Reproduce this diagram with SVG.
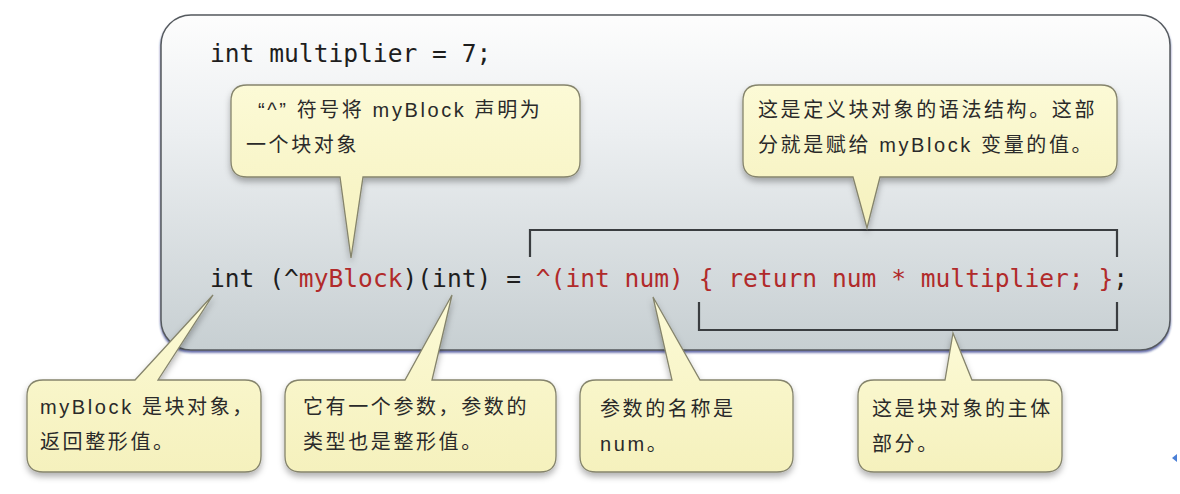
<svg xmlns="http://www.w3.org/2000/svg" width="1180" height="494" viewBox="0 0 1180 494">
  <defs>
    <linearGradient id="boxGrad" x1="0" y1="0" x2="0" y2="1">
      <stop offset="0" stop-color="#fdfdfd"/>
      <stop offset="0.35" stop-color="#eceff1"/>
      <stop offset="1" stop-color="#c7cfd2"/>
    </linearGradient>
    <linearGradient id="calloutGrad" x1="0" y1="0" x2="0" y2="1">
      <stop offset="0" stop-color="#fcfad6"/>
      <stop offset="1" stop-color="#f5f1bd"/>
    </linearGradient>
    <filter id="boxShadow" x="-5%" y="-5%" width="110%" height="115%">
      <feDropShadow dx="0" dy="2" stdDeviation="1.2" flood-color="#1c2c80" flood-opacity="0.7"/>
    </filter>
    <filter id="calloutShadow" x="-10%" y="-10%" width="120%" height="130%">
      <feDropShadow dx="0" dy="4" stdDeviation="3" flood-color="#000" flood-opacity="0.3"/>
    </filter>
    <style>
      .box { fill: url(#boxGrad); stroke: #555a5e; stroke-width: 1.5; filter: url(#boxShadow); }
      .callout { fill: url(#calloutGrad); stroke: #85846c; stroke-width: 1.3; filter: url(#calloutShadow); }
      .code { font-family: "DejaVu Sans Mono", "Liberation Mono", monospace; font-size: 24.6px; fill: #1e1e1e; }
      .red { fill: #b12a2a; }
      .note { font-family: "Liberation Sans", "Noto Sans CJK SC", sans-serif; font-size: 20px; letter-spacing: 2.6px; fill: #2a2a2a; }
      .bracket { fill: none; stroke: #3a3d40; stroke-width: 2.2; }
    </style>
  </defs>

  <rect width="1180" height="494" fill="#ffffff"/>

  <g id="main-box">
    <rect class="box" x="161" y="15" width="1009" height="335" rx="30" ry="30"/>
    <text class="code" x="210" y="62">int multiplier = 7;</text>
    <text class="code" x="210" y="287">int (^<tspan class="red">myBlock</tspan>)(int) = <tspan class="red">^(int num) { return num * multiplier; }</tspan>;</text>
  </g>

  <g id="connectors">
    <path class="bracket" d="M 530,257 V 230 H 1117 V 257"/>
    <path class="bracket" d="M 699,302 V 330 H 1117 V 302"/>
  </g>

  <g id="callout-caret">
    <path class="callout" d="M 247,85 H 564 Q 580,85 580,101 V 161 Q 580,177 564,177 H 363 L 351,258 L 340,177 H 247 Q 231,177 231,161 V 101 Q 231,85 247,85 Z"/>
    <text class="note" x="258" y="117">“^” 符号将 myBlock 声明为</text>
    <text class="note" x="246" y="152">一个块对象</text>
  </g>

  <g id="callout-definition">
    <path class="callout" d="M 759,85 H 1101 Q 1117,85 1117,101 V 161 Q 1117,177 1101,177 H 880 L 867,228 L 853,177 H 759 Q 743,177 743,161 V 101 Q 743,85 759,85 Z"/>
    <text class="note" x="758" y="117">这是定义块对象的语法结构。这部</text>
    <text class="note" x="758" y="152">分就是赋给 myBlock 变量的值。</text>
  </g>

  <g id="callout-myblock">
    <path class="callout" d="M 43,380 H 135 L 213,295 L 158,380 H 245 Q 261,380 261,396 V 456 Q 261,472 245,472 H 43 Q 27,472 27,456 V 396 Q 27,380 43,380 Z"/>
    <text class="note" x="40" y="414">myBlock 是块对象，</text>
    <text class="note" x="40" y="449">返回整形值。</text>
  </g>

  <g id="callout-param">
    <path class="callout" d="M 301,380 H 405 L 452,295 L 432,380 H 540 Q 556,380 556,396 V 456 Q 556,472 540,472 H 301 Q 285,472 285,456 V 396 Q 285,380 301,380 Z"/>
    <text class="note" x="303" y="414">它有一个参数，参数的</text>
    <text class="note" x="303" y="449">类型也是整形值。</text>
  </g>

  <g id="callout-name">
    <path class="callout" d="M 596,380 H 672 L 653,297 L 700,380 H 777 Q 793,380 793,396 V 456 Q 793,472 777,472 H 596 Q 580,472 580,456 V 396 Q 580,380 596,380 Z"/>
    <text class="note" x="600" y="416">参数的名称是</text>
    <text class="note" x="600" y="451">num。</text>
  </g>

  <g id="callout-body">
    <path class="callout" d="M 874,380 H 945 L 953,333 L 972,380 H 1046 Q 1062,380 1062,396 V 456 Q 1062,472 1046,472 H 874 Q 858,472 858,456 V 396 Q 858,380 874,380 Z"/>
    <text class="note" x="872" y="416">这是块对象的主体</text>
    <text class="note" x="872" y="451">部分。</text>
  </g>

  <polygon points="1172,458 1177,454 1177,462" fill="#4a7fd6"/>
</svg>
